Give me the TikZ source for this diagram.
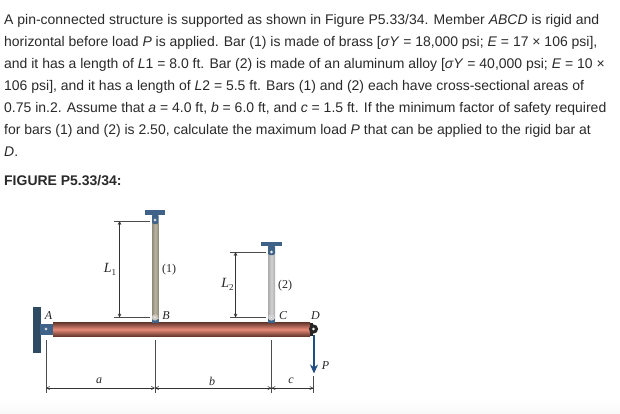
\documentclass[tikz,border=0pt]{standalone}
\usepackage{fontspec}
\setmainfont{Liberation Sans}
\newfontfamily\lblfont{Liberation Serif}
\usetikzlibrary{arrows.meta}
\definecolor{txt}{HTML}{2A2A2A}
\definecolor{steelb}{HTML}{3F6388}
\definecolor{steeld}{HTML}{2F4A63}
\definecolor{brassc}{HTML}{A8A28C}
\definecolor{alumc}{HTML}{BEBEBE}
\definecolor{barm}{HTML}{E88A78}
\definecolor{bard}{HTML}{6A3A30}
\definecolor{arrowb}{HTML}{1F4E85}
\tikzset{
 x=1pt,y=-1pt,
 para/.style={anchor=base west,inner sep=0pt,font=\fontsize{13.98}{16}\selectfont,text=txt},
 lbl/.style={inner sep=0pt,font=\lblfont\fontsize{12}{14}\selectfont\itshape,text=black!85},
 lblr/.style={inner sep=0pt,font=\lblfont\fontsize{12}{14}\selectfont,text=black!85},
 ext/.style={draw=black!70,line width=0.6pt},
 dimline/.style={draw=black!80,line width=0.6pt,{Straight Barb[length=3pt,width=3pt]}-{Straight Barb[length=3pt,width=3pt]}},
 pinpt/.style={circle,fill=white,draw=black!30,line width=0.2pt,minimum size=2.6pt,inner sep=0pt},
}
\begin{document}
\begin{tikzpicture}
\useasboundingbox (0,0) rectangle (620,414);
\fill[white] (0,0) rectangle (620,414);
\shade[top color=white,bottom color=black!3,draw=none] (0,400) rectangle (620,414);
% text
\node[para] (t1) at (4,24.7) {A pin-connected structure is supported as shown in Figure P5.33/34. Member \textit{ABCD} is rigid and};
\node[para] (t2) at (4,46.7) {horizontal before load \textit{P} is applied. Bar (1) is made of brass [\textit{σY} = 18,000 psi; \textit{E} = 17 × 106 psi],};
\node[para] (t3) at (4,68.7) {and it has a length of \textit{L}1 = 8.0 ft. Bar (2) is made of an aluminum alloy [\textit{σY} = 40,000 psi; \textit{E} = 10 ×};
\node[para] (t4) at (4,90.7) {106 psi], and it has a length of \textit{L}2 = 5.5 ft. Bars (1) and (2) each have cross-sectional areas of};
\node[para] (t5) at (4,112.7) {0.75 in.2. Assume that \textit{a} = 4.0 ft, \textit{b} = 6.0 ft, and \textit{c} = 1.5 ft. If the minimum factor of safety required};
\node[para] (t6) at (4,134.7) {for bars (1) and (2) is 2.50, calculate the maximum load \textit{P} that can be applied to the rigid bar at};
\node[para] (t7) at (4,156.7) {\textit{D}.};
\node[para,font=\fontsize{13.98}{16}\selectfont\bfseries] (t8) at (4,185) {FIGURE P5.33/34:};
% wall at A
\fill[steeld] (33,307) rectangle (41,353);
\fill[steelb] (40,324) rectangle (53,335);
% rigid bar
\shade[top color=bard,bottom color=bard,middle color=barm] (53,322.7) rectangle (310,336);
\fill[black!85] (310,323) rectangle (313,336);
\fill[black!85] (313.5,329) circle (4.6);
% bar 1
\fill[steelb] (145,210) rectangle (165,215);
\shade[left color=brassc!85!black,right color=brassc!85!black,middle color=brassc!80] (152,222) rectangle (158.5,318);
\fill[steelb,rounded corners=2pt] (152,214) rectangle (158.5,224);
\fill[steelb] (152,319) rectangle (158.5,323);
\fill[brassc!60] (155,317.5) circle (3.2);
% bar 2
\fill[steelb] (261,241.7) rectangle (282,246);
\shade[left color=alumc!90!black,right color=alumc!90!black,middle color=alumc!70] (268,253) rectangle (275,318);
\fill[steelb,rounded corners=2pt] (268,245) rectangle (275,255);
\fill[steelb] (268,319) rectangle (275,323);
\fill[alumc!70] (271.5,317.5) circle (3.2);
% pins
\node[pinpt] (pA) at (46,329) {};
\node[pinpt] (pB) at (155,317.5) {};
\node[pinpt] (pC) at (271.5,317.5) {};
\node[pinpt] (pD) at (313.5,329) {};
\node[pinpt] (pT1) at (155,220) {};
\node[pinpt] (pT2) at (271.5,252) {};
% L1 dimension
\coordinate (l1a) at (114,221); \coordinate (l1b) at (150,221);
\coordinate (l1c) at (114,317.5); \coordinate (l1d) at (150,317.5);
\coordinate (l1t) at (119.5,221); \coordinate (l1u) at (119.5,317.5);
\draw[ext] (l1a) -- (l1b); \draw[ext] (l1c) -- (l1d);
\draw[dimline] (l1t) -- (l1u);
% L2 dimension
\coordinate (l2a) at (230,252); \coordinate (l2b) at (266,252);
\coordinate (l2c) at (230,317.5); \coordinate (l2d) at (266,317.5);
\coordinate (l2t) at (235.5,252); \coordinate (l2u) at (235.5,317.5);
\draw[ext] (l2a) -- (l2b); \draw[ext] (l2c) -- (l2d);
\draw[dimline] (l2t) -- (l2u);
% bottom dimensions
\coordinate (e1a) at (46,340); \coordinate (e1b) at (46,393);
\coordinate (e2a) at (155,340); \coordinate (e2b) at (155,393);
\coordinate (e3a) at (271.5,340); \coordinate (e3b) at (271.5,393);
\coordinate (e4a) at (313.5,376); \coordinate (e4b) at (313.5,393);
\coordinate (d1) at (46,388); \coordinate (d2) at (155,388); \coordinate (d3) at (271.5,388); \coordinate (d4) at (313.5,388);
\draw[ext] (e1a) -- (e1b); \draw[ext] (e2a) -- (e2b); \draw[ext] (e3a) -- (e3b); \draw[ext] (e4a) -- (e4b);
\draw[dimline] (d1) -- (d2); \draw[dimline] (d2) -- (d3); \draw[dimline] (d3) -- (d4);
% load
\coordinate (p0) at (314,335); \coordinate (p1) at (314,373.5);
\draw[arrowb,line width=1.5pt,-{Stealth[length=9pt,width=8pt]}] (p0) -- (p1);
% labels
\node[lbl] (lL1) at (110,269) {\fontsize{14}{16}\selectfont L\raisebox{-3pt}{\fontsize{9}{10}\selectfont\upshape 1}};
\node[lbl] (lL2) at (227.5,284) {\fontsize{14}{16}\selectfont L\raisebox{-3pt}{\fontsize{9}{10}\selectfont\upshape 2}};
\node[lblr] (l1) at (169,270) {(1)};
\node[lblr] (l2) at (285,286) {(2)};
\node[lbl] (lA) at (48.5,316) {A};
\node[lbl] (lB) at (166,316) {B};
\node[lbl] (lC) at (283,316) {C};
\node[lbl] (lD) at (315.5,316) {D};
\node[lbl] (lP) at (325.5,366) {P};
\node[lbl] (la) at (99,381) {a};
\node[lbl] (lb) at (212,381) {b};
\node[lbl] (lc) at (291,381) {c};
\end{tikzpicture}
\end{document}
